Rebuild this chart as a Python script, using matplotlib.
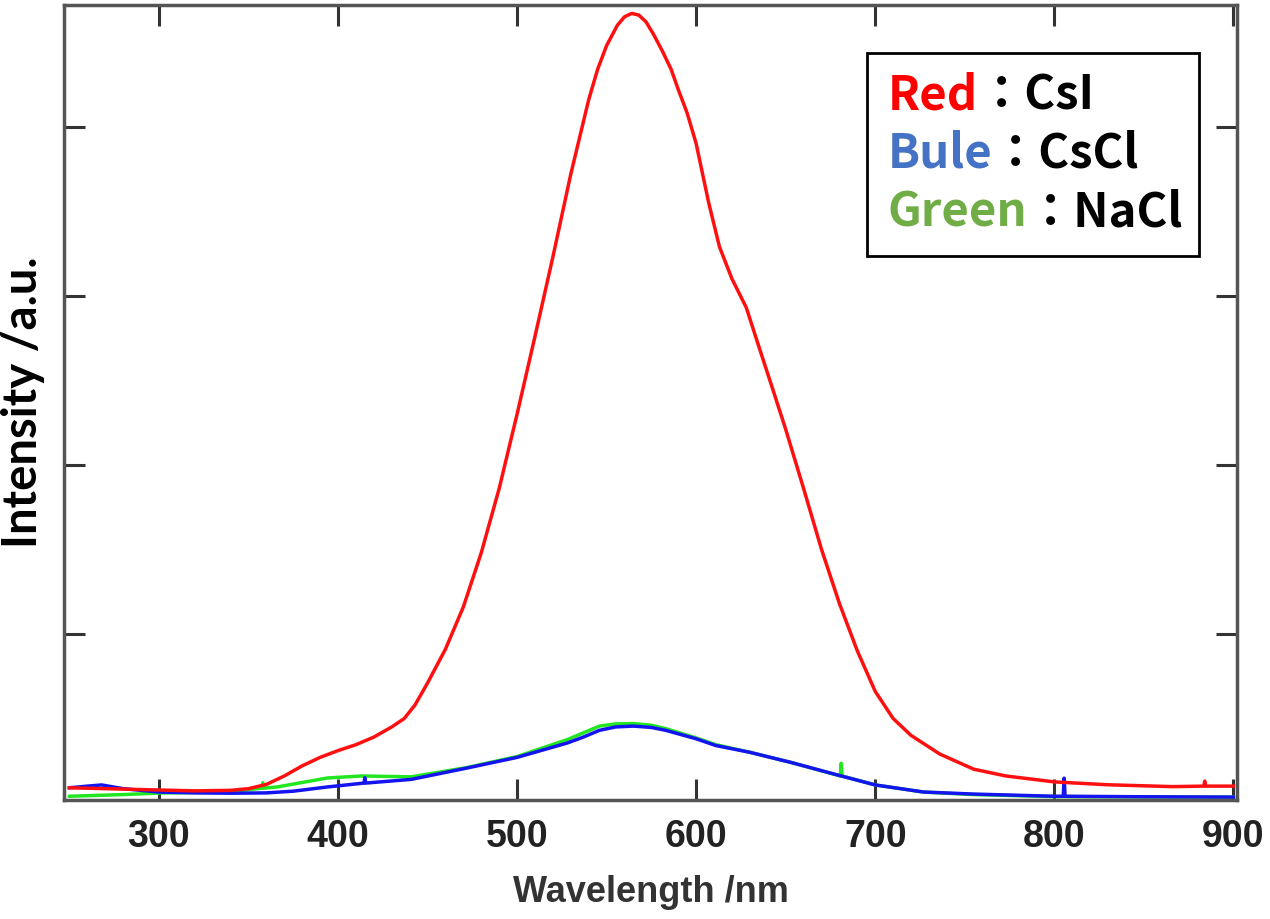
import matplotlib.pyplot as plt
from matplotlib.patches import Rectangle

# wavelength (nm) / intensity (a.u.)
red_x = [250, 270, 300, 320, 340, 350, 360, 370, 380, 390, 400, 410, 420, 430, 437,
         443, 450, 460, 470, 480, 490, 500, 510, 520, 530, 540, 545, 550, 556, 560,
         564, 568, 572, 576, 581, 586, 590, 595, 600, 607, 613, 620, 628, 635, 643,
         650, 660, 670, 680, 690, 700, 710, 720, 736, 755, 773, 800, 830, 866, 883.5,
         884, 884.5, 900]
red_y = [0.09, 0.085, 0.077, 0.072, 0.075, 0.085, 0.11, 0.16, 0.22, 0.27, 0.31, 0.345,
         0.39, 0.45, 0.50, 0.58, 0.71, 0.91, 1.16, 1.48, 1.86, 2.30, 2.76, 3.23, 3.72,
         4.16, 4.34, 4.48, 4.60, 4.65, 4.67, 4.66, 4.62, 4.55, 4.45, 4.34, 4.22, 4.08,
         3.90, 3.55, 3.29, 3.10, 2.93, 2.70, 2.44, 2.21, 1.86, 1.50, 1.18, 0.90, 0.66,
         0.50, 0.40, 0.29, 0.20, 0.16, 0.125, 0.108, 0.097, 0.10, 0.13, 0.10, 0.10]

blue_x = [250, 260, 268, 280, 300, 320, 340, 360, 375, 394, 414.5, 415, 415.5, 441,
          472, 500, 528, 537, 546, 555, 565, 575, 583, 600, 611, 630, 653, 681, 700,
          727, 755, 800, 805, 805.5, 806, 850, 900]
blue_y = [0.09, 0.10, 0.107, 0.085, 0.065, 0.06, 0.058, 0.06, 0.07, 0.095, 0.118, 0.15,
          0.118, 0.14, 0.207, 0.27, 0.355, 0.39, 0.43, 0.45, 0.455, 0.447, 0.43, 0.38,
          0.34, 0.30, 0.24, 0.16, 0.107, 0.065, 0.053, 0.04, 0.04, 0.147, 0.04, 0.037,
          0.035]

green_x = [250, 280, 300, 338, 357.5, 358, 358.5, 366, 394, 413, 441, 472, 500, 528,
           546, 555, 565, 575, 583, 600, 611, 630, 653, 680.5, 681, 681.5, 700, 727,
           755, 800, 900]
green_y = [0.04, 0.05, 0.059, 0.065, 0.088, 0.12, 0.088, 0.095, 0.148, 0.16, 0.155,
           0.21, 0.275, 0.375, 0.455, 0.468, 0.47, 0.46, 0.44, 0.385, 0.345, 0.30, 0.24,
           0.16, 0.235, 0.16, 0.107, 0.065, 0.05, 0.038, 0.035]

legend_words = ["Red", "Bule", "Green"]
legend_names = ["CsI", "CsCl", "NaCl"]
legend_colors = ["#ff0000", "#4472c4", "#70ad47"]

fig = plt.figure(figsize=(12.7, 9.19), dpi=100)
ax = fig.add_axes([0.0504, 0.1295, 0.9236, 0.8651])

ax.plot(green_x, green_y, color="#22e622", lw=2.5)
ax.plot(blue_x, blue_y, color="#1414f0", lw=2.5)
ax.plot(red_x, red_y, color="#ff1010", lw=2.5)

ax.set_xlim(247, 902)
ax.set_ylim(0.018, 4.72)
ax.set_xticks([300, 400, 500, 600, 700, 800, 900])
ax.set_yticks([1, 2, 3, 4])
ax.set_yticklabels([])
ax.tick_params(axis="both", direction="in", top=True, right=True,
               length=15, width=2.2, color="#333333")
ax.tick_params(axis="x", labelsize=27, pad=14, labelcolor="#222222")
for lab in ax.get_xticklabels():
    lab.set_family("Liberation Sans")
    lab.set_fontweight("bold")
for s in ax.spines.values():
    s.set_linewidth(2.5)
    s.set_color("#555555")

ax.set_xlabel("Wavelength /nm", fontsize=26, fontweight="bold",
              family="Liberation Sans", color="#333333", labelpad=14)
ax.set_ylabel("Intensity /a.u.", fontsize=34, fontweight="bold",
              family="Lato", labelpad=10)

# legend box with coloured words
ax.add_patch(Rectangle((0.685, 0.684), 0.283, 0.256, transform=ax.transAxes,
                       fill=False, edgecolor="black", lw=2, zorder=5))
rows = [0.868, 0.795, 0.721]
for word, name, col, yy in zip(legend_words, legend_names, legend_colors, rows):
    t = ax.text(0.702, yy, word, color=col, fontsize=34, transform=ax.transAxes,
                family=["Noto Sans CJK JP", "DejaVu Sans"], fontweight="bold",
                va="baseline", zorder=6)
    ax.annotate("：" + name, xy=(1, 0), xycoords=t, va="bottom", ha="left",
                fontsize=34, color="black", fontweight="bold",
                family=["Noto Sans CJK JP", "DejaVu Sans"], zorder=6)

plt.savefig("out.png", dpi=100)
